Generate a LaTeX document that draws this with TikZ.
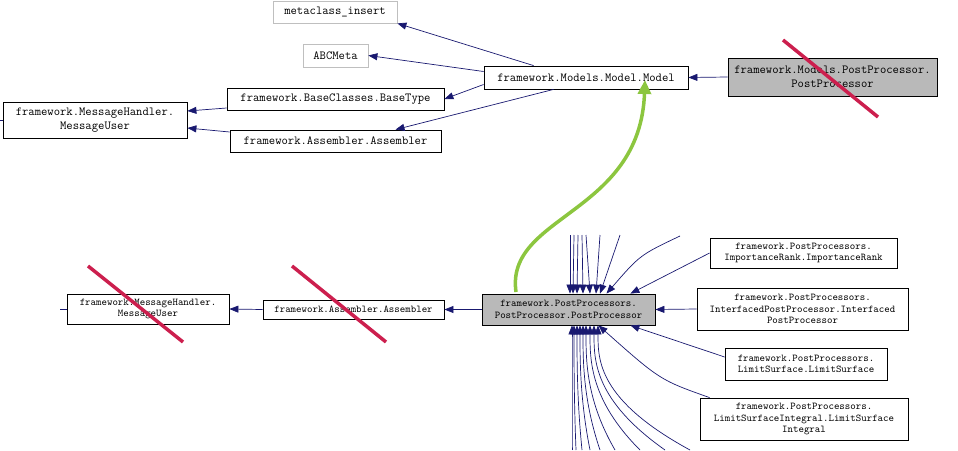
\documentclass[tikz,border=0pt]{standalone}
\usetikzlibrary{arrows.meta}
\definecolor{edge}{HTML}{191970}
\definecolor{grn}{HTML}{8CC63F}
\definecolor{rd}{HTML}{CC1F4E}
\begin{document}
\begin{tikzpicture}[x=1pt,y=-1pt,
 box/.style={draw=black,line width=0.8pt,inner sep=0pt,align=center,font=\ttfamily\fontsize{12.3}{14}\selectfont},
 gbox/.style={box,draw=gray!50},
 sbox/.style={box,font=\ttfamily\fontsize{10.4}{11.5}\selectfont},
 ar/.style={edge,line width=0.7pt,-{Triangle[length=9pt,width=7pt]}},
 ln/.style={edge,line width=0.7pt},
 cross/.style={rd,line width=3.5pt}]
\useasboundingbox (0,0) rectangle (958,450);
% top
\node[gbox,minimum width=124,minimum height=22] (mi) at (335,12) {metaclass\_insert};
\node[gbox,minimum width=65,minimum height=23] (abc) at (335.5,55.5) {ABCMeta};
\node[box,minimum width=217,minimum height=22] (bt) at (335.5,99) {framework.BaseClasses.BaseType};
\node[box,minimum width=211,minimum height=22] (asT) at (335.5,141) {framework.Assembler.Assembler};
\node[box,minimum width=184,minimum height=36] (muT) at (95,120) {framework.MessageHandler.\\MessageUser};
\node[box,minimum width=204,minimum height=23] (mod) at (586,77.5) {framework.Models.Model.Model};
\node[box,fill=gray!55,minimum width=209,minimum height=38] (ppT) at (832.5,77) {framework.Models.PostProcessor.\\PostProcessor};
\coordinate (l0) at (0,120);
\draw[ln] (l0) -- (muT.west);
\draw[ar] (mod.north west) ++(50,0) -- (mi.south east);
\draw[ar] (mod.west) ++(0,-6) -- (abc.east);
\draw[ar] (mod.west) ++(0,7) -- (bt.east);
\draw[ar] (mod.south west) ++(70,0) -- ([xshift=60]asT.north);
\draw[ar] (bt.west) ++(0,9) -- ([yshift=9]muT.east);
\draw[ar] (asT.west) ++(0,-9) -- ([yshift=-8]muT.east);
\draw[ar] (ppT.west) -- (mod.east);
% bottom
\node[sbox,minimum width=162,minimum height=30] (muB) at (148,309) {framework.MessageHandler.\\MessageUser};
\node[sbox,minimum width=181,minimum height=19] (asB) at (353.5,309.5) {framework.Assembler.Assembler};
\node[sbox,fill=gray!55,minimum width=173,minimum height=31] (pp) at (568.5,309.5) {framework.PostProcessors.\\PostProcessor.PostProcessor};
\node[sbox,minimum width=187,minimum height=30] (ir) at (803.5,253) {framework.PostProcessors.\\ImportanceRank.ImportanceRank};
\node[sbox,minimum width=211,minimum height=42] (ipp) at (802.5,309) {framework.PostProcessors.\\InterfacedPostProcessor.Interfaced\\PostProcessor};
\node[sbox,minimum width=162,minimum height=32] (ls) at (806,364) {framework.PostProcessors.\\LimitSurface.LimitSurface};
\node[sbox,minimum width=208,minimum height=42] (lsi) at (804,419) {framework.PostProcessors.\\LimitSurfaceIntegral.LimitSurface\\Integral};
\coordinate (l1) at (60,309);
\draw[ln] (l1) -- (muB.west);
\draw[ar] (asB.west) -- (muB.east);
\draw[ar] (pp.west) -- (asB.east);
\draw[ar] (ipp.west) -- (pp.east);
\draw[ar] (ir.west) -- ([xshift=-25]pp.north east);
\draw[ar] (ls.west) ++(0,-7) -- ([xshift=-25]pp.south east);
\draw[ar] (lsi.north west) ++(10,0) .. controls (660,380) .. ([xshift=30,yshift=0]pp.south);
% fan above
\foreach \x/\tx in {570/570,574/573,578/577,582/583,586/590,600/596,620/600} {
  \coordinate (ft\x) at (\x,235);
  \draw[ar] (ft\x) -- ([xshift=\tx-568.5]pp.north);
}
\coordinate (ft680) at (680,236);
\draw[ar] (ft680) .. controls (640,255) .. ([xshift=38]pp.north);
% fan below
\foreach \x/\tx in {572/572,576/574,582/577,590/580,600/583,615/586,640/590,665/594,690/598} {
  \coordinate (fb\x) at (\x,450);
  \draw[ar] (fb\x) .. controls (\tx,400) and (\tx,360) .. ([xshift=\tx-568.5]pp.south);
}
% overlays
\coordinate (g0) at (516,292);
\coordinate (g1) at (645,80);
\draw[grn,line width=3.5pt,-{Triangle[length=14pt,width=13pt]}] (g0) .. controls (505,215) and (640,215) .. (g1);
\coordinate (c1a) at (783,40); \coordinate (c1b) at (878,117);
\coordinate (c2a) at (88,266); \coordinate (c2b) at (183,342);
\coordinate (c3a) at (292,266); \coordinate (c3b) at (386,342);
\draw[cross] (c1a) -- (c1b);
\draw[cross] (c2a) -- (c2b);
\draw[cross] (c3a) -- (c3b);
\end{tikzpicture}
\end{document}
